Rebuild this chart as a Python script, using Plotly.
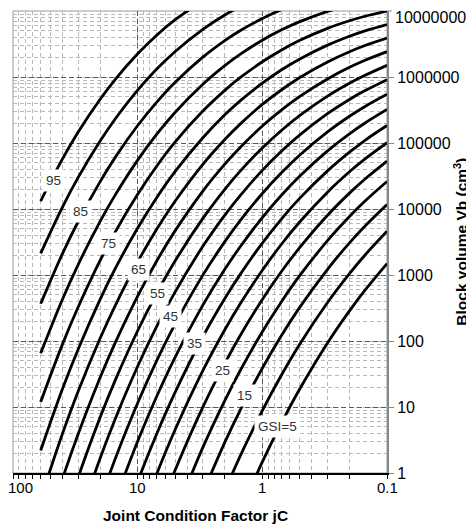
import math
import plotly.graph_objects as go

# Joint condition factor values at which the curves were read
jc = [60, 40, 30, 20, 15, 10, 7, 5, 3, 2, 1.5, 1, 0.7, 0.5, 0.3, 0.2, 0.15, 0.1]
N = None

# Block volume (cm3)
vb_95 = [13200, 57900, 1.47e5, 4.61e5, 9.40e5, 2.25e6, 4.34e6, 7.38e6, 1.44e7, N, N, N, N, N, N, N, N, N]
vb_90 = [2130, 10800, 30100, 1.07e5, 2.37e5, 6.31e5, 1.33e6, 2.44e6, 5.28e6, 8.71e6, 1.17e7, N, N, N, N, N, N, N]
vb_85 = [366, 2130, 6470, 26000, 62200, 1.84e5, 4.21e5, 8.34e5, 2.00e6, 3.56e6, 5.06e6, 7.71e6, 1.05e7, N, N, N, N, N]
vb_80 = [65.2, 434, 1440, 6500, 16800, 55100, 1.37e5, 2.92e5, 7.78e5, 1.49e6, 2.22e6, 3.61e6, 5.18e6, 6.90e6, 9.84e6, 1.22e7, N, N]
vb_75 = [11.9, 90.4, 327, 1660, 4630, 16700, 45300, 1.04e5, 3.05e5, 6.28e5, 9.84e5, 1.70e6, 2.57e6, 3.59e6, 5.46e6, 7.11e6, 8.32e6, 9.95e6]
vb_70 = [2.19, 19.0, 75.2, 428, 1290, 5140, 15100, 37100, 1.20e5, 2.67e5, 4.39e5, 8.07e5, 1.29e6, 1.88e6, 3.04e6, 4.15e6, 5.00e6, 6.22e6]
vb_65 = [0.404, 4.00, 17.3, 110, 357, 1580, 5010, 13200, 47600, 1.13e5, 1.95e5, 3.84e5, 6.41e5, 9.82e5, 1.69e6, 2.42e6, 3.00e6, 3.89e6]
vb_60 = [0.0735, 0.830, 3.91, 28.0, 97.9, 480, 1660, 4700, 18700, 47800, 86300, 1.81e5, 3.18e5, 5.09e5, 9.35e5, 1.40e6, 1.79e6, 2.42e6]
vb_55 = [N, 0.168, 0.865, 6.97, 26.4, 143, 536, 1640, 7210, 19900, 37800, 84100, 1.56e5, 2.62e5, 5.14e5, 8.05e5, 1.06e6, 1.50e6]
vb_50 = [N, N, 0.185, 1.67, 6.87, 41.4, 169, 556, 2720, 8090, 16100, 38500, 75500, 1.33e5, 2.78e5, 4.57e5, 6.22e5, 9.12e5]
vb_45 = [N, N, N, 0.385, 1.72, 11.5, 51.3, 182, 995, 3200, 6730, 17200, 35600, 65800, 1.47e5, 2.54e5, 3.58e5, 5.48e5]
vb_40 = [N, N, N, N, 0.404, 3.03, 14.8, 57.1, 349, 1220, 2700, 7400, 16300, 31600, 76000, 1.38e5, 2.01e5, 3.22e5]
vb_35 = [N, N, N, N, 0.0879, 0.743, 4.01, 16.8, 116, 440, 1030, 3050, 7110, 14600, 37800, 72600, 1.10e5, 1.84e5]
vb_30 = [N, N, N, N, N, 0.166, 0.991, 4.56, 35.6, 148, 370, 1180, 2950, 6400, 18000, 36600, 57400, 1.01e5]
vb_25 = [N, N, N, N, N, N, 0.219, 1.11, 9.93, 45.7, 122, 426, 1140, 2620, 8050, 17400, 28500, 53200]
vb_20 = [N, N, N, N, N, N, N, 0.234, 2.44, 12.5, 36.0, 138, 398, 984, 3320, 7710, 13200, 26100]
vb_15 = [N, N, N, N, N, N, N, N, 0.501, 2.91, 9.06, 38.7, 122, 326, 1220, 3070, 5530, 11700]
vb_10 = [N, N, N, N, N, N, N, N, N, 0.535, 1.83, 8.83, 30.8, 90.2, 383, 1050, 2010, 4610]
vb_5 = [N, N, N, N, N, N, N, N, N, N, 0.261, 1.47, 5.79, 18.9, 93.5, 286, 589, 1490]

curves = [vb_95, vb_90, vb_85, vb_80, vb_75, vb_70, vb_65, vb_60, vb_55, vb_50,
          vb_45, vb_40, vb_35, vb_30, vb_25, vb_20, vb_15, vb_10, vb_5]
gsi_values = [95, 90, 85, 80, 75, 70, 65, 60, 55, 50, 45, 40, 35, 30, 25, 20, 15, 10, 5]

# curve labels and where they sit
label_text = ["95", "85", "75", "65", "55", "45", "35", "25", "15", "GSI=5"]
label_jc = [47.5, 29.0, 17.2, 9.79, 6.87, 5.41, 3.53, 2.07, 1.38, 0.755]
label_vb = [27500, 9020, 2950, 1220, 528, 239, 91.6, 35.7, 14.7, 5.15]

x_ticks = [100, 10, 1, 0.1]
x_ticktext = ["100", "10", "1", "0.1"]
y_ticks = [1, 10, 100, 1000, 10000, 100000, 1000000]
y_ticktext = ["1", "10", "100", "1000", "10000", "100000", "1000000"]
y_top_tick = 10000000
y_top_text = "10000000"

x_title = "<b>Joint Condition Factor jC</b>"
y_title = "<b>Block volume Vb (cm<sup>3</sup>)</b>"

FONT = "Liberation Sans, Arial, sans-serif"
X_TICK_Y = -0.031      # paper y of the x tick labels
Y_TICK_X = 1.0254      # paper x where the right-hand tick labels start
Y_TICK_SIZE = 16

fig = go.Figure()
for g, vb in zip(gsi_values, curves):
    fig.add_trace(go.Scatter(
        x=jc, y=vb, mode="lines", name=f"GSI={g}",
        line=dict(color="black", width=2.8, shape="spline", smoothing=1.0),
        hoverinfo="skip", showlegend=False))

for t, xj, yv in zip(label_text, label_jc, label_vb):
    fig.add_annotation(x=math.log10(xj), y=math.log10(yv), text=t, showarrow=False,
                       font=dict(family=FONT, size=13.5, color="#333333"),
                       bgcolor="white", borderpad=3, xanchor="center", yanchor="middle")

# x tick labels (the leftmost one is kept inside the page)
for v, t in zip(x_ticks, x_ticktext):
    first = (v == x_ticks[0])
    fig.add_annotation(x=math.log10(v), xref="x", y=X_TICK_Y, yref="paper", text=t,
                       showarrow=False, xanchor="center", yanchor="middle",
                       xshift=7 if first else 0,
                       font=dict(family=FONT, size=15, color="black"))
# top tick label on the right axis, kept inside the page
fig.add_annotation(x=Y_TICK_X, xref="paper", y=math.log10(y_top_tick), yref="y",
                   text=y_top_text, showarrow=False, xanchor="left", yanchor="top",
                   yshift=3, borderpad=0, xshift=-2,
                   font=dict(family=FONT, size=Y_TICK_SIZE, color="black"))

# axis titles
fig.add_annotation(xref="paper", yref="paper", x=0.488, y=-0.091, text=x_title,
                   showarrow=False, xanchor="center", yanchor="middle",
                   font=dict(family=FONT, size=15.5, color="black"))
fig.add_annotation(xref="paper", yref="paper", x=1.197, y=0.5, text=y_title,
                   showarrow=False, xanchor="center", yanchor="middle", textangle=-90,
                   font=dict(family=FONT, size=15.5, color="black"))

major_grid = dict(showgrid=True, gridcolor="#5a5a5a", gridwidth=1, griddash="5px,3px")
fig.update_xaxes(
    type="log", range=[2, -1], tickvals=x_ticks, showticklabels=False, automargin=False,
    showline=True, linecolor="black", linewidth=2, ticks="outside", ticklen=4,
    tickcolor="black",
    minor=dict(dtick="D1", showgrid=True, gridcolor="#b8b8b8", griddash="4px,3px",
               gridwidth=1, ticks="outside", ticklen=4, tickcolor="black"),
    zeroline=False, **major_grid)
fig.update_yaxes(
    type="log", range=[0, 7], side="right", tickvals=y_ticks, ticktext=y_ticktext,
    automargin=False,
    showline=True, linecolor="#888888", linewidth=2, ticks="outside", ticklen=5,
    tickcolor="#888888", tickfont=dict(family=FONT, size=Y_TICK_SIZE, color="black"),
    minor=dict(dtick="D1", showgrid=True, gridcolor="#b8b8b8", griddash="4px,3px",
               gridwidth=1),
    zeroline=False, **major_grid)

# plot frame (top and left edges) and the top tick of the right axis
fig.add_shape(type="rect", xref="x domain", yref="y domain", x0=0, x1=1, y0=0, y1=1,
              line=dict(color="#999999", width=1), layer="below")
fig.add_shape(type="line", xref="x domain", yref="y domain", x0=1, x1=1.0134, y0=1, y1=1,
              line=dict(color="#888888", width=1))

fig.update_layout(
    width=466, height=519,
    margin=dict(l=5, r=87, t=3, b=54),
    paper_bgcolor="white", plot_bgcolor="white",
    font=dict(family=FONT),
    showlegend=False)

fig.write_html("out.html")
